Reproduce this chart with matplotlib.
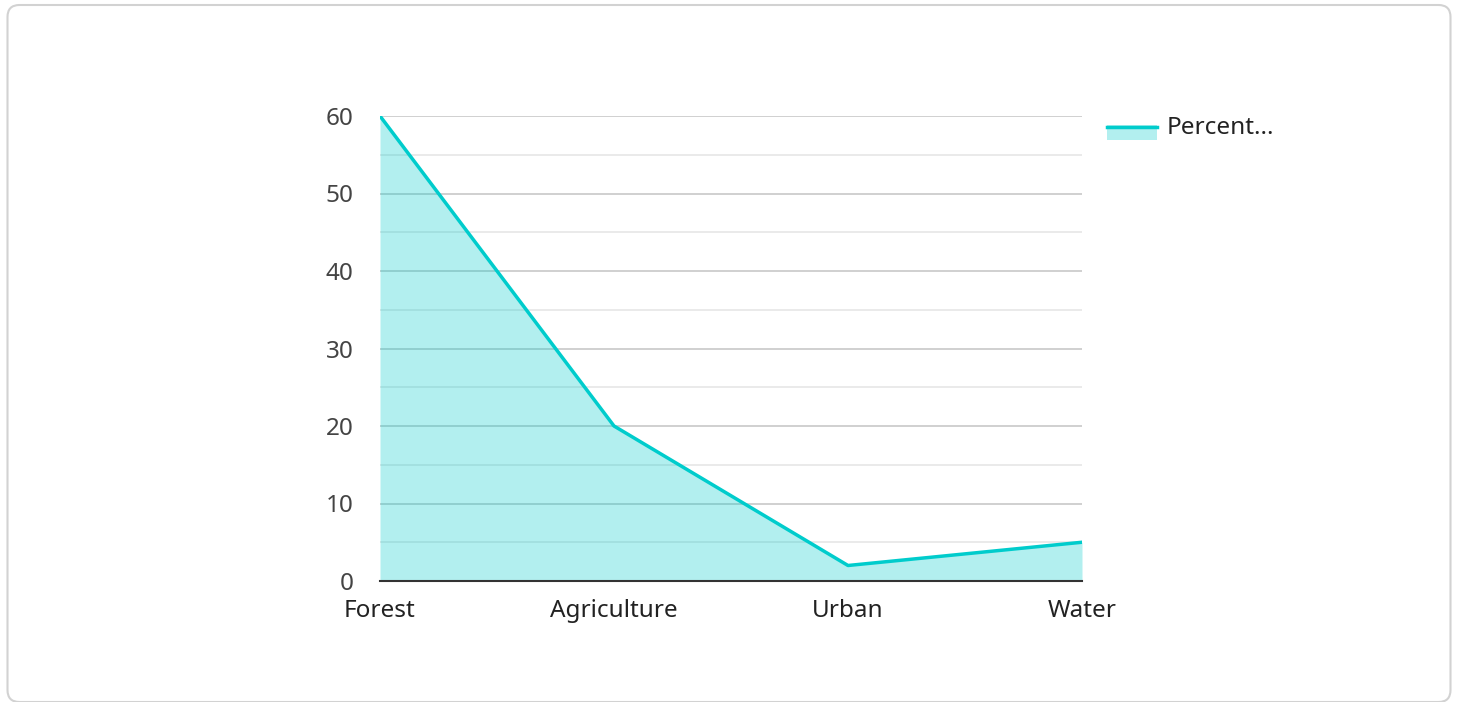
import matplotlib.pyplot as plt
from matplotlib.patches import FancyBboxPatch, Rectangle
from matplotlib.lines import Line2D
from matplotlib.transforms import IdentityTransform

# данные
categories = ['Forest', 'Agriculture', 'Urban', 'Water']
percent = [60, 20, 2, 5]
series_label = 'Percent...'
y_ticks = [0, 10, 20, 30, 40, 50, 60]
y_minor = [5, 15, 25, 35, 45, 55]

line_color = '#00cccc'
fill_alpha = 0.3

plt.rcParams['font.family'] = ['Noto Sans', 'DejaVu Sans']

W, H = 1458, 702
fig = plt.figure(figsize=(W / 100, H / 100), dpi=100)

# рамка-карточка (в пикселях, начало снизу)
card = FancyBboxPatch((7.5, 0.0), 1443, 697,
                      boxstyle='round,pad=0,rounding_size=12',
                      transform=IdentityTransform(), facecolor='white',
                      edgecolor='#d2d2d2', linewidth=1.5, zorder=0)
fig.add_artist(card)

ax = fig.add_axes([380 / W, 1 - 581 / H, 702 / W, 465 / H])
ax.set_facecolor('none')
x = list(range(len(categories)))

# сетка под заливкой
ax.set_axisbelow(True)
ax.grid(True, which='major', axis='y', color='#c8c8c8', linewidth=1.2)
ax.grid(True, which='minor', axis='y', color='#e6e6e6', linewidth=1.2)

ax.fill_between(x, percent, 0, color=line_color, alpha=fill_alpha,
                linewidth=0, zorder=2)
ax.plot(x, percent, color=line_color, linewidth=2.5, zorder=4)

ax.set_xlim(0, len(categories) - 1)
ax.set_ylim(0, 60)
ax.set_xticks(x)
ax.set_xticklabels(categories)
ax.set_yticks(y_ticks)
ax.set_yticks(y_minor, minor=True)

for s in ['top', 'right', 'left']:
    ax.spines[s].set_visible(False)
ax.spines['bottom'].set_color('#333333')
ax.spines['bottom'].set_linewidth(1.5)
ax.spines['bottom'].set_zorder(5)

ax.tick_params(axis='both', which='both', length=0, labelsize=17.5,
               labelcolor='#444444')
ax.tick_params(axis='y', pad=19)
ax.tick_params(axis='x', pad=13)
for lbl in ax.get_xticklabels():
    lbl.set_color('#222222')

# легенда
fig.add_artist(Rectangle((1107 / W, 1 - 140 / H), 50 / W, 15 / H,
                         transform=fig.transFigure, facecolor=line_color,
                         alpha=fill_alpha, edgecolor='none'))
fig.add_artist(Line2D([1107 / W, 1157 / W], [1 - 126.5 / H, 1 - 126.5 / H],
                      transform=fig.transFigure, color=line_color, linewidth=2.5))
fig.text(1167 / W, 1 - 128 / H, series_label, fontsize=17.5, color='#222222',
         va='center', ha='left')

plt.savefig('out.png', dpi=100)
